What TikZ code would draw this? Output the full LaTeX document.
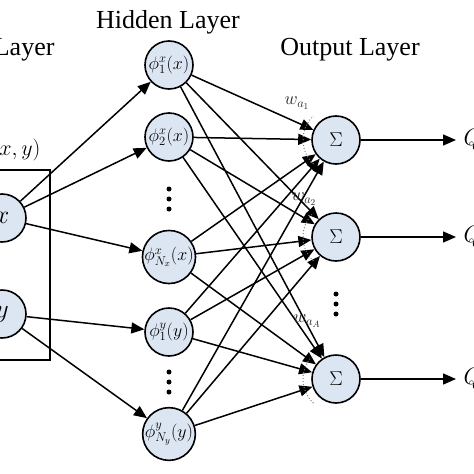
\documentclass[tikz,border=0pt]{standalone}
\usepackage{fix-cm}
\usepackage{fontspec}
\setmainfont{Liberation Serif}
\usetikzlibrary{arrows.meta}
\definecolor{nodefill}{RGB}{220,230,242}
\tikzset{
  neuron/.style={circle,draw=black,line width=1.6pt,fill=nodefill,minimum size=48pt,inner sep=0pt},
  conn/.style={line width=1.5pt,-{Triangle[length=13pt,width=11pt]}},
  dotc/.style={circle,fill=black,inner sep=0pt,minimum size=5pt},
  title/.style={font=\fontsize{26}{28}\selectfont},
  hlab/.style={font=\fontsize{18}{20}\selectfont},
  wlab/.style={font=\fontsize{18}{20}\selectfont,text=black!85},
  warc/.style={gray,dotted,line width=1pt}
}
\begin{document}
\begin{tikzpicture}[x=1pt,y=-1pt]
\useasboundingbox (0,0) rectangle (474,474);
\clip (0,0) rectangle (474,474);
% titles
\node[title,anchor=east] (tin) at (58,50) {Input Layer};
\node[title] (thid) at (168,22) {Hidden Layer};
\node[title] (tout) at (350,50) {Output Layer};
\node[font=\fontsize{22}{24}\selectfont,anchor=east] (xy) at (44,150) {$(x,y)$};
% input box
\node[draw,line width=1.2pt,minimum width=70pt,minimum height=190pt,inner sep=0pt] (box) at (15,265) {};
% input nodes
\node[neuron,font=\fontsize{26}{28}\selectfont] (I1) at (2,218) {$x$};
\node[neuron,font=\fontsize{26}{28}\selectfont] (I2) at (2,314) {$y$};
% hidden nodes
\node[neuron,hlab] (H1) at (169,65) {$\phi^x_1(x)$};
\node[neuron,hlab] (H2) at (169,137) {$\phi^x_2(x)$};
\node[neuron,hlab] (H3) at (169,257) {$\phi^x_{N_x}(x)$};
\node[neuron,hlab] (H4) at (169,332) {$\phi^y_1(y)$};
\node[neuron,hlab] (H5) at (169,434) {$\phi^y_{N_y}(y)$};
% dots
\node[dotc] (d1) at (169,189) {};
\node[dotc] (d2) at (169,199) {};
\node[dotc] (d3) at (169,209) {};
\node[dotc] (d4) at (169,372) {};
\node[dotc] (d5) at (169,382) {};
\node[dotc] (d6) at (169,392) {};
\node[dotc] (d7) at (336,294) {};
\node[dotc] (d8) at (336,304) {};
\node[dotc] (d9) at (336,314) {};
% output nodes
\node[neuron,font=\fontsize{20}{22}\selectfont] (O1) at (336,140) {$\Sigma$};
\node[neuron,font=\fontsize{20}{22}\selectfont] (O2) at (336,237) {$\Sigma$};
\node[neuron,font=\fontsize{20}{22}\selectfont] (O3) at (336,379) {$\Sigma$};
% output labels
\coordinate (E1) at (456,140);
\coordinate (E2) at (456,237);
\coordinate (E3) at (456,379);
\node[font=\fontsize{24}{26}\selectfont,anchor=west] (Q1) at (460,140) {$Q_1$};
\node[font=\fontsize{24}{26}\selectfont,anchor=west] (Q2) at (460,237) {$Q_2$};
\node[font=\fontsize{24}{26}\selectfont,anchor=west] (Q3) at (460,379) {$Q_A$};
% input to hidden
\draw[conn] (I1) -- (H1);
\draw[conn] (I1) -- (H2);
\draw[conn] (I1) -- (H3);
\draw[conn] (I2) -- (H4);
\draw[conn] (I2) -- (H5);
% hidden to output
\foreach \h in {H1,H2,H3,H4,H5}{
  \foreach \o in {O1,O2,O3}{
    \draw[conn] (\h) -- (\o);
  }
}
% outputs
\draw[conn] (O1) -- (E1);
\draw[conn] (O2) -- (E2);
\draw[conn] (O3) -- (E3);
% weight labels and arcs
\node[wlab] (w1) at (297,103) {$w_{a_1}$};
\node[wlab] (w2) at (304,199) {$w_{a_2}$};
\node[wlab] (w3) at (307,321) {$w_{a_A}$};
\draw[warc] (O1.center) ++(133:33) arc[start angle=133,end angle=227,radius=33];
\draw[warc] (O2.center) ++(133:33) arc[start angle=133,end angle=227,radius=33];
\draw[warc] (O3.center) ++(133:33) arc[start angle=133,end angle=227,radius=33];
\end{tikzpicture}
\end{document}
